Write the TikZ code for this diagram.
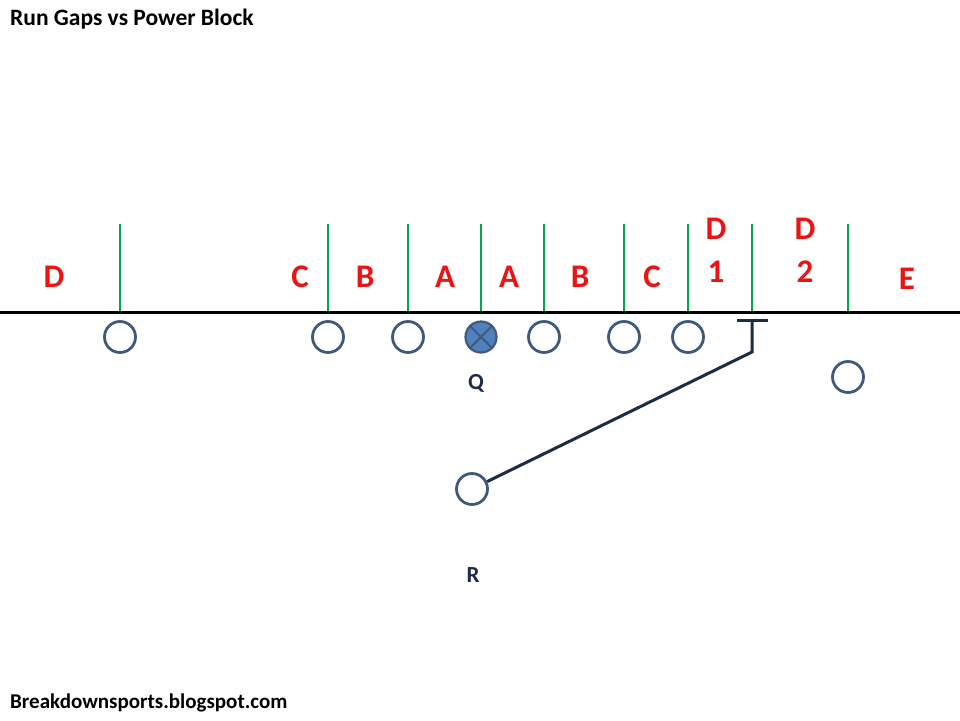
\documentclass[tikz,border=0pt]{standalone}
\usepackage{fontspec}
\setmainfont{Carlito}
\definecolor{gapred}{RGB}{235,20,20}
\definecolor{gapgreen}{RGB}{0,166,80}
\definecolor{pstroke}{RGB}{65,89,122}
\definecolor{pfill}{RGB}{79,129,189}
\definecolor{navy}{RGB}{31,42,68}
\tikzset{
  player/.style={circle, draw=pstroke, line width=2.8pt, minimum size=31pt, inner sep=0pt, fill=white},
  gapline/.style={draw=gapgreen, line width=2.8pt},
  gaplabel/.style={text=gapred, font=\bfseries\fontsize{33}{36}\selectfont, inner sep=0pt},
  blabel/.style={text=navy, font=\bfseries\fontsize{23}{26}\selectfont, inner sep=0pt},
  caption/.style={text=black, font=\bfseries\fontsize{#1}{26}\selectfont, inner sep=0pt, anchor=west},
  route/.style={draw=navy, line width=3pt},
}
\begin{document}
\begin{tikzpicture}[x=1pt, y=-1pt]
\useasboundingbox[fill=white] (0,0) rectangle (960,720);
% line of scrimmage
\coordinate (losL) at (0,312);
\coordinate (losR) at (960,312);
\draw[line width=3pt, black] (losL) -- (losR);
% gap lines
\foreach \x/\n in {120/g1,328/g2,408/g3,481/g4,544/g5,624/g6,688/g7,752/g8,848/g9}{
  \coordinate (\n t) at (\x,224);
  \coordinate (\n b) at (\x,311);
  \draw[gapline] (\n t) -- (\n b);
}
% gap labels
\node[gaplabel] (lD) at (54,277) {D};
\node[gaplabel] (lC1) at (300,277) {C};
\node[gaplabel] (lB1) at (365,277) {B};
\node[gaplabel] (lA1) at (445,277) {A};
\node[gaplabel] (lA2) at (509,277) {A};
\node[gaplabel] (lB2) at (580,277) {B};
\node[gaplabel] (lC2) at (652,277) {C};
\node[gaplabel] (lD1a) at (716,229) {D};
\node[gaplabel] (lD1b) at (716,272) {1};
\node[gaplabel] (lD2a) at (805,229) {D};
\node[gaplabel] (lD2b) at (805,272) {2};
\node[gaplabel] (lE) at (907,279) {E};
% players
\node[player] (p1) at (120,337) {};
\node[player] (p2) at (328,337) {};
\node[player] (p3) at (408,337) {};
\node[player, fill=pfill, draw=pstroke, line width=2.2pt] (qc) at (481,337) {};
\draw[pstroke, line width=1.8pt] (qc.north west) -- (qc.south east) (qc.north east) -- (qc.south west);
\node[player] (p5) at (544,337) {};
\node[player] (p6) at (624,337) {};
\node[player] (p7) at (688,337) {};
\node[player] (te) at (848,377) {};
\node[player] (rb) at (472,489) {};
% labels
\node[blabel] (Q) at (476,383) {Q};
\node[blabel] (R) at (473,575) {R};
% power block route
\coordinate (bL) at (737,320);
\coordinate (bR) at (768,320);
\coordinate (bM) at (752,320);
\coordinate (bC) at (752,352);
\draw[route] (bL) -- (bR);
\draw[route] (rb) -- (bC) -- (bM);
% captions
\node[caption=23.5] (title) at (10,19) {Run Gaps vs Power Block};
\node[caption=21] (foot) at (10,703) {Breakdownsports.blogspot.com};
\end{tikzpicture}
\end{document}
